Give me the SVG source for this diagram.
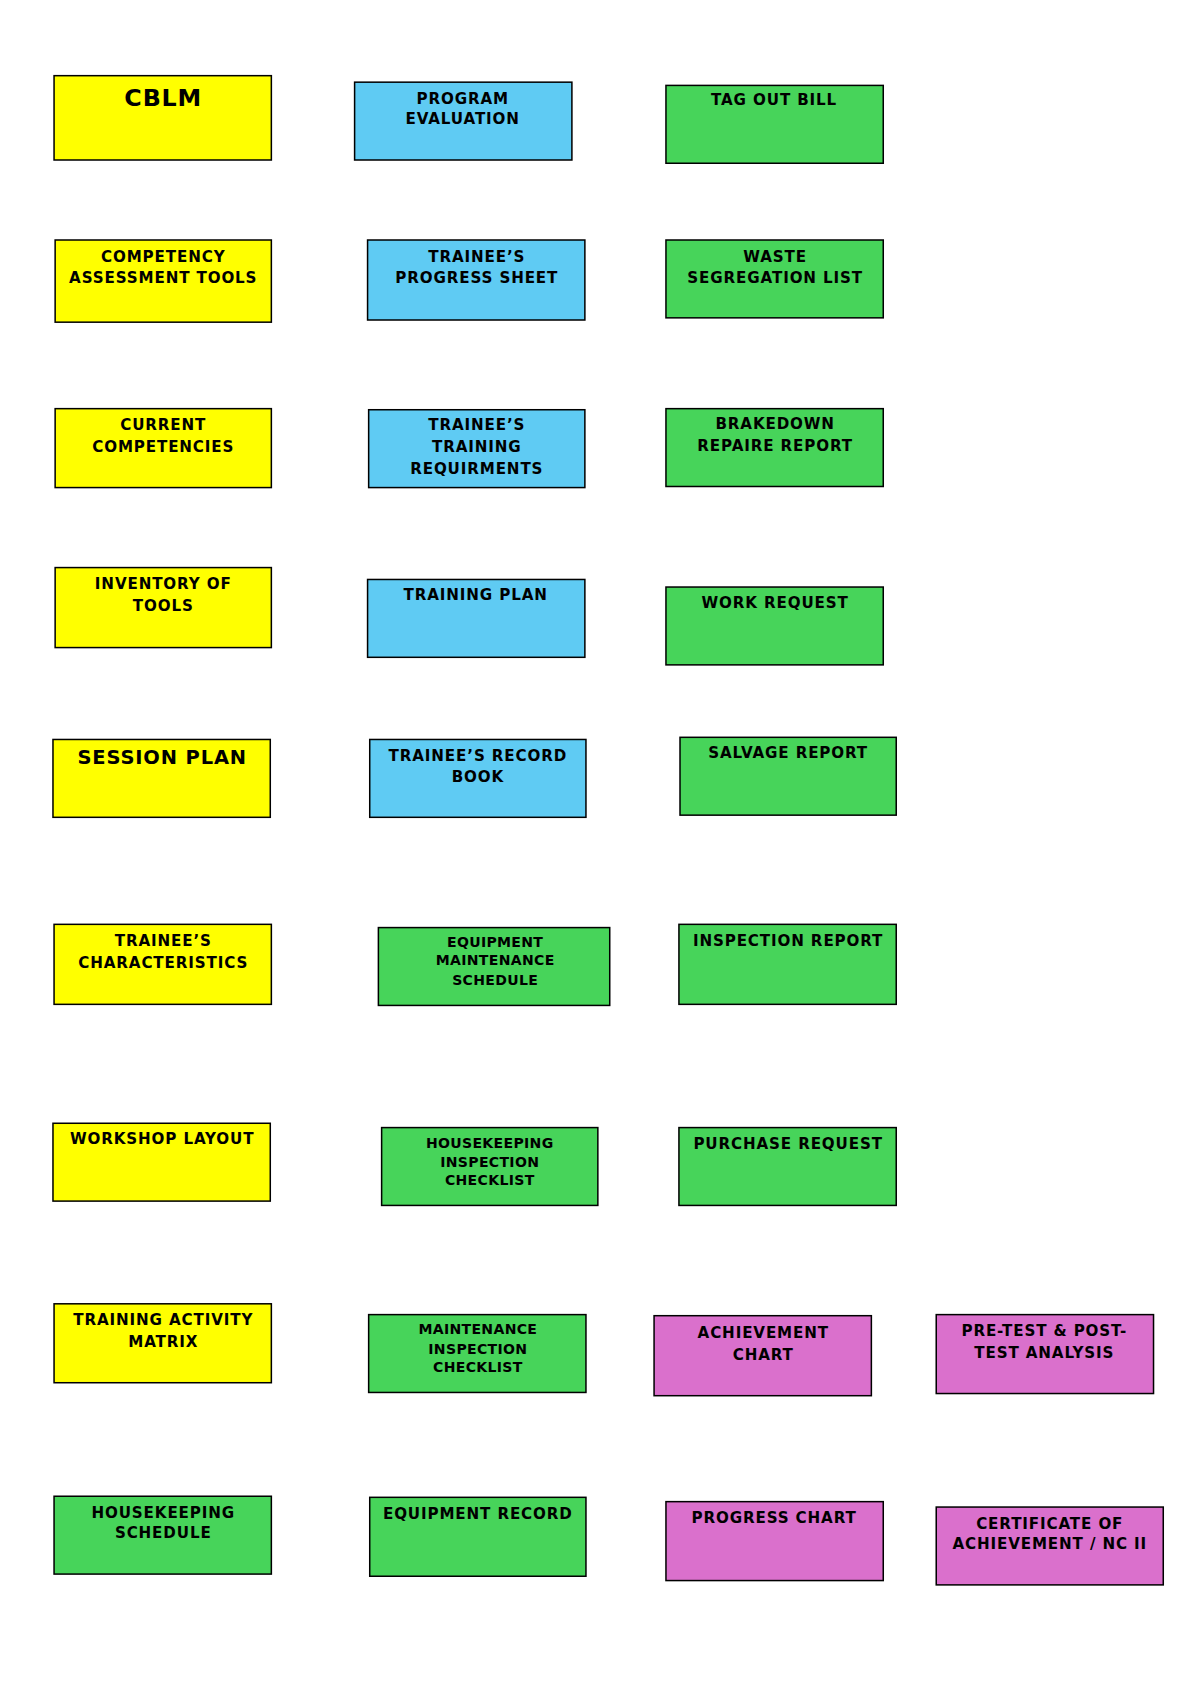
<svg xmlns="http://www.w3.org/2000/svg" width="1200" height="1696" viewBox="0 0 1200 1696">
<style>
rect{stroke:#000;stroke-width:1.4}
.y{fill:#ffff00}.b{fill:#5fcbf3}.g{fill:#47d45a}.p{fill:#da70cc}
text{font-family:"DejaVu Sans",sans-serif;font-weight:bold;font-size:14px;letter-spacing:0.8px;text-anchor:middle;fill:#000}
.s{font-size:13px;letter-spacing:0.3px}
</style>
<rect width="1200" height="1696" fill="#fff" style="stroke:none"/>
<g transform="scale(1.0811)">
<g id="cblm"><rect class="y" x="50" y="70" width="201" height="78"/><text x="151" y="98" style="font-size:22px">CBLM</text></g>
<g id="cat"><rect class="y" x="51" y="222" width="200" height="76"/><text x="151" y="242">COMPETENCY</text><text x="151" y="262">ASSESSMENT TOOLS</text></g>
<g id="cc"><rect class="y" x="51" y="378" width="200" height="73"/><text x="151" y="398">CURRENT</text><text x="151" y="418">COMPETENCIES</text></g>
<g id="inv"><rect class="y" x="51" y="525" width="200" height="74"/><text x="151" y="545">INVENTORY OF</text><text x="151" y="565">TOOLS</text></g>
<g id="sp"><rect class="y" x="49" y="684" width="201" height="72"/><text x="150" y="707" style="font-size:18px">SESSION PLAN</text></g>
<g id="tc"><rect class="y" x="50" y="855" width="201" height="74"/><text x="151" y="875">TRAINEE’S</text><text x="151" y="895">CHARACTERISTICS</text></g>
<g id="wl"><rect class="y" x="49" y="1039" width="201" height="72"/><text x="150" y="1058">WORKSHOP LAYOUT</text></g>
<g id="tam"><rect class="y" x="50" y="1206" width="201" height="73"/><text x="151" y="1226">TRAINING ACTIVITY</text><text x="151" y="1246">MATRIX</text></g>
<g id="hs"><rect class="g" x="50" y="1384" width="201" height="72"/><text x="151" y="1404">HOUSEKEEPING</text><text x="151" y="1423">SCHEDULE</text></g>
<g id="pe"><rect class="b" x="328" y="76" width="201" height="72"/><text x="428" y="96">PROGRAM</text><text x="428" y="115">EVALUATION</text></g>
<g id="tps"><rect class="b" x="340" y="222" width="201" height="74"/><text x="441" y="242">TRAINEE’S</text><text x="441" y="262">PROGRESS SHEET</text></g>
<g id="ttr"><rect class="b" x="341" y="379" width="200" height="72"/><text x="441" y="398">TRAINEE’S</text><text x="441" y="418">TRAINING</text><text x="441" y="438">REQUIRMENTS</text></g>
<g id="tp"><rect class="b" x="340" y="536" width="201" height="72"/><text x="440" y="555">TRAINING PLAN</text></g>
<g id="trb"><rect class="b" x="342" y="684" width="200" height="72"/><text x="442" y="704">TRAINEE’S RECORD</text><text x="442" y="723">BOOK</text></g>
<g id="ems"><rect class="g" x="350" y="858" width="214" height="72"/><text class="s" x="458" y="876">EQUIPMENT</text><text class="s" x="458" y="893">MAINTENANCE</text><text class="s" x="458" y="911">SCHEDULE</text></g>
<g id="hic"><rect class="g" x="353" y="1043" width="200" height="72"/><text class="s" x="453" y="1062">HOUSEKEEPING</text><text class="s" x="453" y="1079">INSPECTION</text><text class="s" x="453" y="1096">CHECKLIST</text></g>
<g id="mic"><rect class="g" x="341" y="1216" width="201" height="72"/><text class="s" x="442" y="1234">MAINTENANCE</text><text class="s" x="442" y="1252">INSPECTION</text><text class="s" x="442" y="1269">CHECKLIST</text></g>
<g id="er"><rect class="g" x="342" y="1385" width="200" height="73"/><text x="442" y="1405">EQUIPMENT RECORD</text></g>
<g id="tob"><rect class="g" x="616" y="79" width="201" height="72"/><text x="716" y="97">TAG OUT BILL</text></g>
<g id="wsl"><rect class="g" x="616" y="222" width="201" height="72"/><text x="717" y="242">WASTE</text><text x="717" y="262">SEGREGATION LIST</text></g>
<g id="brr"><rect class="g" x="616" y="378" width="201" height="72"/><text x="717" y="397">BRAKEDOWN</text><text x="717" y="417">REPAIRE REPORT</text></g>
<g id="wr"><rect class="g" x="616" y="543" width="201" height="72"/><text x="717" y="562">WORK REQUEST</text></g>
<g id="sr"><rect class="g" x="629" y="682" width="200" height="72"/><text x="729" y="701">SALVAGE REPORT</text></g>
<g id="ir"><rect class="g" x="628" y="855" width="201" height="74"/><text x="729" y="875">INSPECTION REPORT</text></g>
<g id="pr"><rect class="g" x="628" y="1043" width="201" height="72"/><text x="729" y="1063">PURCHASE REQUEST</text></g>
<g id="ac"><rect class="p" x="605" y="1217" width="201" height="74"/><text x="706" y="1238">ACHIEVEMENT</text><text x="706" y="1258">CHART</text></g>
<g id="pc"><rect class="p" x="616" y="1389" width="201" height="73"/><text x="716" y="1409">PROGRESS CHART</text></g>
<g id="ptta"><rect class="p" x="866" y="1216" width="201" height="73"/><text x="966" y="1236">PRE-TEST &amp; POST-</text><text x="966" y="1256">TEST ANALYSIS</text></g>
<g id="cert"><rect class="p" x="866" y="1394" width="210" height="72"/><text x="971" y="1414">CERTIFICATE OF</text><text x="971" y="1433">ACHIEVEMENT / NC II</text></g>
<g id="connectors"></g>
</g>
</svg>
